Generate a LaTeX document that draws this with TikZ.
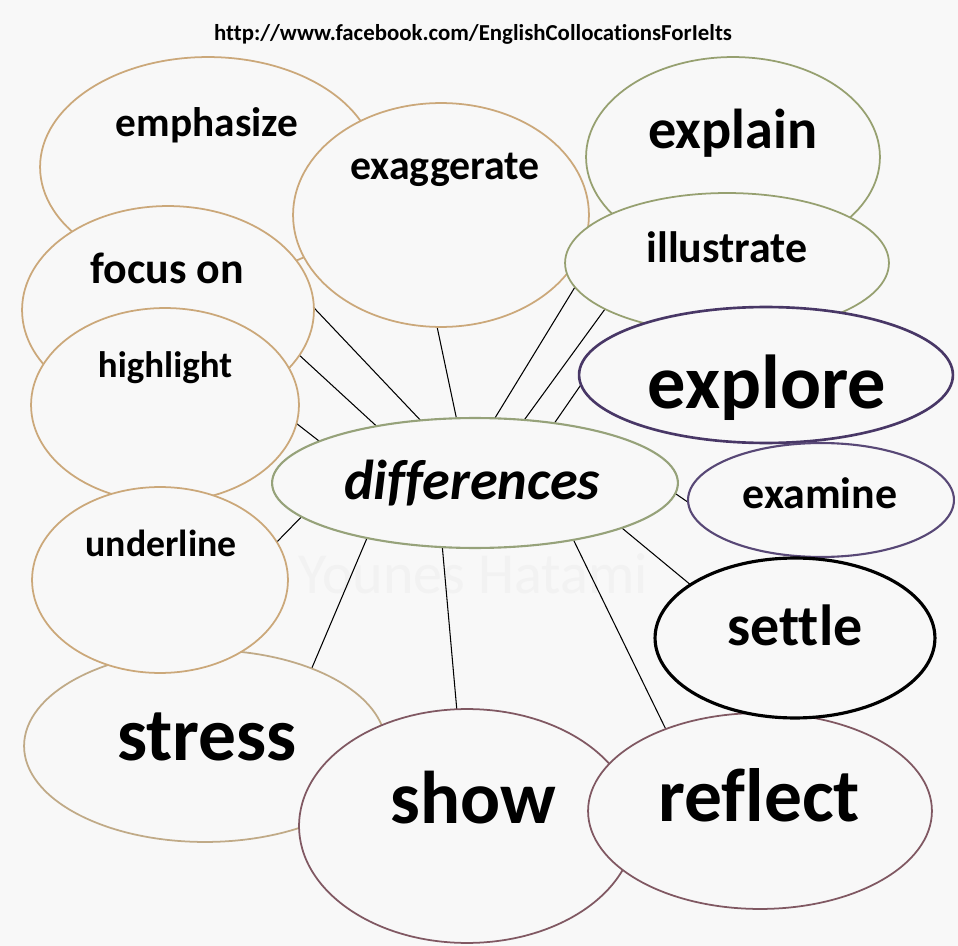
\documentclass[tikz,border=0pt]{standalone}
\usepackage{fontspec}
\setmainfont{Carlito}[Ligatures=CommonOff]
\usetikzlibrary{shapes.geometric,backgrounds}

\definecolor{bgpaper}{RGB}{248,248,248}
\definecolor{tanline}{RGB}{203,168,122}
\definecolor{stressline}{RGB}{192,170,135}
\definecolor{oliveline}{RGB}{150,160,112}
\definecolor{diffline}{RGB}{150,162,122}
\definecolor{purpleline}{RGB}{72,55,102}
\definecolor{violetline}{RGB}{88,72,118}
\definecolor{mauveline}{RGB}{128,88,98}

\tikzset{
  bub/.style 2 args={ellipse, draw, fill=bgpaper, line width=1pt, inner sep=0pt, outer sep=0pt,
    minimum width=#1*0.04cm, minimum height=#2*0.04cm},
  word/.style={inner sep=0pt, font=\bfseries\fontsize{#1}{#1}\selectfont},
  spoke/.style={draw=black, line width=0.6pt}
}

\begin{document}
\begin{tikzpicture}[x=0.02cm, y=-0.02cm]
    \useasboundingbox (0,0) rectangle (958,946);

    % Source
    \node[word=13] (url) at (473,34) {http://www.facebook.com/EnglishCollocationsForIelts};

    % Left bubbles
    \node[bub={168}{110}, draw=tanline] (emph) at (208,167) {};
    \node[bub={148}{112}, draw=tanline] (exag) at (441,215) {};
    \node[bub={146}{104}, draw=tanline] (focus) at (168,310) {};
    \node[bub={134}{97}, draw=tanline] (high) at (165,405) {};
    \node[bub={181}{96}, draw=stressline] (stress) at (205,746) {};
    \node[bub={128}{93}, draw=tanline] (under) at (160,580) {};

    % Right bubbles
    \node[bub={147}{100}, draw=oliveline] (expl) at (733,157) {};
    \node[bub={162}{70}, draw=oliveline] (illus) at (727,263) {};
    \node[bub={187}{68}, draw=purpleline, line width=1.5pt] (explore) at (766,375) {};
    \node[bub={133}{57}, draw=violetline, line width=1.2pt] (exam) at (821,500) {};
    \node[bub={168}{117}, draw=mauveline] (show) at (467,826) {};
    \node[bub={172}{98}, draw=mauveline] (refl) at (760,811) {};
    \node[bub={140}{80}, draw=black, line width=1.8pt] (settle) at (795,638) {};

    % Centre
    \node[bub={203}{65}, draw=diffline, line width=1.2pt] (diff) at (475,483) {};

    % Words
    \node[word=23.5] (emph-t) at (207,125) {emphasize};
    \node[word=23.8] (exag-t) at (445,170) {exaggerate};
    \node[word=32] (expl-t) at (733,133) {explain};
    \node[word=25] (illus-t) at (727,247) {illustrate};
    \node[word=25] (focus-t) at (167,268) {focus on};
    \node[word=21] (high-t) at (165,368) {highlight};
    \node[word=43.5] (explore-t) at (767,388) {explore};
    \node[word=32] (diff-t) at (472,483) {\itshape differences};
    \node[word=25] (exam-t) at (820,493) {examine};
    \node[word=21.5] (under-t) at (161,543) {underline};
    \node[word=33] (settle-t) at (795,625) {settle};
    \node[word=43] (stress-t) at (207,737) {stress};
    \node[word=42.5] (show-t) at (473,798) {show};
    \node[word=43] (refl-t) at (759,795) {reflect};

    % Spokes, behind the bubbles
    \begin{scope}[on background layer]
        \fill[bgpaper] (0,0) rectangle (958,946);
        \node[inner sep=0pt, text=black!5, font=\fontsize{33}{33}\selectfont] (mark) at (473,574) {Younes Hatami};
        \draw[spoke] (diff.131.7) -- (emph.-56);
        \draw[spoke] (diff.150.5) -- (focus.-19.3);
        \draw[spoke] (diff.165.5) -- (high.-8.6);
        \draw[spoke] (diff.106.2) -- (exag.268.5);
        \draw[spoke] (diff.73.7) -- (illus.189.8);
        \draw[spoke] (diff.52) -- (expl.227.8);
        \draw[spoke] (diff.37.6) -- (explore.183.7);
        \draw[spoke] (diff.-3.4) -- (exam.181);
        \draw[spoke] (diff.-17) -- (settle.153);
        \draw[spoke] (diff.-30) -- (refl.139.4);
        \draw[spoke] (diff.243.8) -- (show.95);
        \draw[spoke] (diff.207.4) -- (stress.36.9);
        \draw[spoke] (diff.191.8) -- (under.18.9);
    \end{scope}
\end{tikzpicture}
\end{document}
